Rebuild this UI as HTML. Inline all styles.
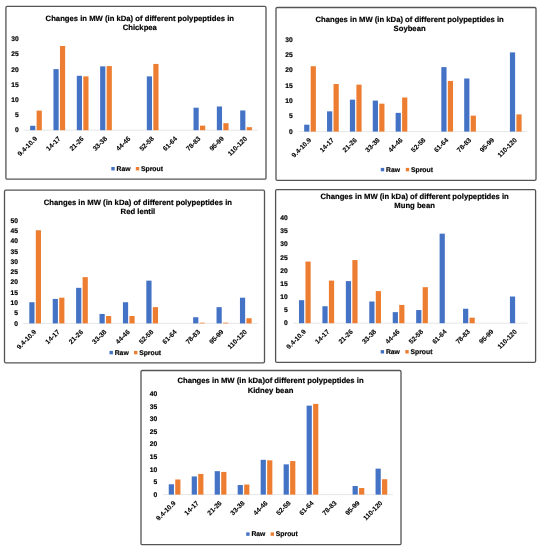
<!DOCTYPE html>
<html><head><meta charset="utf-8"><title>Changes in MW of polypeptides</title>
<style>
html,body{margin:0;padding:0;background:#fff;}
body{width:542px;height:550px;overflow:hidden;}
svg{display:block;}
text{font-family:"Liberation Sans",Arial,sans-serif;font-weight:bold;fill:#000;stroke:#000;stroke-width:0.18px;text-rendering:geometricPrecision;}
.tt{font-size:7.7px;text-anchor:middle;}
.yl{font-size:6.7px;text-anchor:end;}
.xl{font-size:6.7px;text-anchor:end;stroke-width:0.1px;}
.lg{font-size:6.8px;}
.bx{fill:none;stroke:#555;stroke-width:1.3;}
.ax{stroke:#e0e0e0;stroke-width:0.8;}
</style></head>
<body>
<svg width="542" height="550" viewBox="0 0 542 550">
<rect width="542" height="550" fill="#fff"/>
<rect x="5.9" y="6.4" width="260.1" height="172.8" rx="1.3" class="bx"/>
<text x="139.8" y="20.8" class="tt">Changes in MW (in kDa) of different polypeptides in</text>
<text x="139.8" y="29.9" class="tt">Chickpea</text>
<text x="18.8" y="132.3" class="yl">0</text>
<text x="18.8" y="117.1" class="yl">5</text>
<text x="18.8" y="101.9" class="yl">10</text>
<text x="18.8" y="86.7" class="yl">15</text>
<text x="18.8" y="71.5" class="yl">20</text>
<text x="18.8" y="56.3" class="yl">25</text>
<text x="18.8" y="41.1" class="yl">30</text>
<line x1="24.3" y1="130.2" x2="257.7" y2="130.2" class="ax"/>
<rect x="30.12" y="125.79" width="5.2" height="4.41" fill="#4472C4"/>
<rect x="36.62" y="110.59" width="5.2" height="19.61" fill="#ED7D31"/>
<text transform="translate(37.57 139.2) rotate(-45)" class="xl">9.4-10.9</text>
<rect x="53.46" y="69.1" width="5.2" height="61.1" fill="#4472C4"/>
<rect x="59.96" y="45.99" width="5.2" height="84.21" fill="#ED7D31"/>
<text transform="translate(60.91 139.2) rotate(-45)" class="xl">14-17</text>
<rect x="76.8" y="75.78" width="5.2" height="54.42" fill="#4472C4"/>
<rect x="83.3" y="76.39" width="5.2" height="53.81" fill="#ED7D31"/>
<text transform="translate(84.25 139.2) rotate(-45)" class="xl">21-26</text>
<rect x="100.14" y="66.36" width="5.2" height="63.84" fill="#4472C4"/>
<rect x="106.64" y="66.06" width="5.2" height="64.14" fill="#ED7D31"/>
<text transform="translate(107.59 139.2) rotate(-45)" class="xl">33-38</text>
<text transform="translate(130.93 139.2) rotate(-45)" class="xl">44-46</text>
<rect x="146.82" y="76.39" width="5.2" height="53.81" fill="#4472C4"/>
<rect x="153.32" y="63.93" width="5.2" height="66.27" fill="#ED7D31"/>
<text transform="translate(154.27 139.2) rotate(-45)" class="xl">52-58</text>
<text transform="translate(177.61 139.2) rotate(-45)" class="xl">61-64</text>
<rect x="193.5" y="107.7" width="5.2" height="22.5" fill="#4472C4"/>
<rect x="200" y="125.64" width="5.2" height="4.56" fill="#ED7D31"/>
<text transform="translate(200.95 139.2) rotate(-45)" class="xl">78-83</text>
<rect x="216.84" y="106.49" width="5.2" height="23.71" fill="#4472C4"/>
<rect x="223.34" y="123.21" width="5.2" height="6.99" fill="#ED7D31"/>
<text transform="translate(224.29 139.2) rotate(-45)" class="xl">95-99</text>
<rect x="240.18" y="110.44" width="5.2" height="19.76" fill="#4472C4"/>
<rect x="246.68" y="127.16" width="5.2" height="3.04" fill="#ED7D31"/>
<text transform="translate(247.63 139.2) rotate(-45)" class="xl">110-120</text>
<rect x="111.3" y="167" width="3.4" height="3.4" fill="#4472C4"/>
<text x="116.5" y="170.8" class="lg">Raw</text>
<rect x="135.8" y="167" width="3.4" height="3.4" fill="#ED7D31"/>
<text x="141" y="170.8" class="lg">Sprout</text>
<rect x="276" y="7.5" width="260" height="172.8" rx="1.3" class="bx"/>
<text x="409.6" y="21.8" class="tt">Changes in MW (in kDa) of different polypeptides in</text>
<text x="409.6" y="30.9" class="tt">Soybean</text>
<text x="292.8" y="133.7" class="yl">0</text>
<text x="292.8" y="118.35" class="yl">5</text>
<text x="292.8" y="103" class="yl">10</text>
<text x="292.8" y="87.65" class="yl">15</text>
<text x="292.8" y="72.3" class="yl">20</text>
<text x="292.8" y="56.95" class="yl">25</text>
<text x="292.8" y="41.6" class="yl">30</text>
<line x1="298.6" y1="131.6" x2="527.2" y2="131.6" class="ax"/>
<rect x="304.18" y="124.69" width="5.2" height="6.91" fill="#4472C4"/>
<rect x="310.68" y="66.21" width="5.2" height="65.39" fill="#ED7D31"/>
<text transform="translate(311.63 140.6) rotate(-45)" class="xl">9.4-10.9</text>
<rect x="327.04" y="111.34" width="5.2" height="20.26" fill="#4472C4"/>
<rect x="333.54" y="84.01" width="5.2" height="47.59" fill="#ED7D31"/>
<text transform="translate(334.49 140.6) rotate(-45)" class="xl">14-17</text>
<rect x="349.9" y="99.67" width="5.2" height="31.93" fill="#4472C4"/>
<rect x="356.4" y="84.63" width="5.2" height="46.97" fill="#ED7D31"/>
<text transform="translate(357.35 140.6) rotate(-45)" class="xl">21-26</text>
<rect x="372.76" y="100.59" width="5.2" height="31.01" fill="#4472C4"/>
<rect x="379.26" y="103.66" width="5.2" height="27.94" fill="#ED7D31"/>
<text transform="translate(380.21 140.6) rotate(-45)" class="xl">33-38</text>
<rect x="395.62" y="112.87" width="5.2" height="18.73" fill="#4472C4"/>
<rect x="402.12" y="97.52" width="5.2" height="34.08" fill="#ED7D31"/>
<text transform="translate(403.07 140.6) rotate(-45)" class="xl">44-46</text>
<text transform="translate(425.93 140.6) rotate(-45)" class="xl">52-58</text>
<rect x="441.34" y="67.13" width="5.2" height="64.47" fill="#4472C4"/>
<rect x="447.84" y="80.94" width="5.2" height="50.65" fill="#ED7D31"/>
<text transform="translate(448.79 140.6) rotate(-45)" class="xl">61-64</text>
<rect x="464.2" y="78.49" width="5.2" height="53.11" fill="#4472C4"/>
<rect x="470.7" y="115.64" width="5.2" height="15.96" fill="#ED7D31"/>
<text transform="translate(471.65 140.6) rotate(-45)" class="xl">78-83</text>
<text transform="translate(494.51 140.6) rotate(-45)" class="xl">95-99</text>
<rect x="509.92" y="52.39" width="5.2" height="79.21" fill="#4472C4"/>
<rect x="516.42" y="114.41" width="5.2" height="17.19" fill="#ED7D31"/>
<text transform="translate(517.37 140.6) rotate(-45)" class="xl">110-120</text>
<rect x="380.8" y="167.9" width="3.4" height="3.4" fill="#4472C4"/>
<text x="386" y="171.7" class="lg">Raw</text>
<rect x="405.8" y="167.9" width="3.4" height="3.4" fill="#ED7D31"/>
<text x="411" y="171.7" class="lg">Sprout</text>
<rect x="4.5" y="190.1" width="260" height="172.7" rx="1.3" class="bx"/>
<text x="137.9" y="205" class="tt">Changes in MW (in kDa) of different polypeptides in</text>
<text x="137.9" y="214.1" class="tt">Red lentil</text>
<text x="18" y="325.5" class="yl">0</text>
<text x="18" y="315.22" class="yl">5</text>
<text x="18" y="304.94" class="yl">10</text>
<text x="18" y="294.66" class="yl">15</text>
<text x="18" y="284.38" class="yl">20</text>
<text x="18" y="274.1" class="yl">25</text>
<text x="18" y="263.82" class="yl">30</text>
<text x="18" y="253.54" class="yl">35</text>
<text x="18" y="243.26" class="yl">40</text>
<text x="18" y="232.98" class="yl">45</text>
<text x="18" y="222.7" class="yl">50</text>
<line x1="23.45" y1="323.4" x2="257.5" y2="323.4" class="ax"/>
<rect x="29.3" y="302.22" width="5.2" height="21.18" fill="#4472C4"/>
<rect x="35.8" y="230.26" width="5.2" height="93.14" fill="#ED7D31"/>
<text transform="translate(36.75 332.4) rotate(-45)" class="xl">9.4-10.9</text>
<rect x="52.71" y="298.93" width="5.2" height="24.47" fill="#4472C4"/>
<rect x="59.21" y="297.7" width="5.2" height="25.7" fill="#ED7D31"/>
<text transform="translate(60.16 332.4) rotate(-45)" class="xl">14-17</text>
<rect x="76.11" y="287.83" width="5.2" height="35.57" fill="#4472C4"/>
<rect x="82.61" y="277.14" width="5.2" height="46.26" fill="#ED7D31"/>
<text transform="translate(83.56 332.4) rotate(-45)" class="xl">21-26</text>
<rect x="99.52" y="313.94" width="5.2" height="9.46" fill="#4472C4"/>
<rect x="106.02" y="316" width="5.2" height="7.4" fill="#ED7D31"/>
<text transform="translate(106.97 332.4) rotate(-45)" class="xl">33-38</text>
<rect x="122.92" y="302.22" width="5.2" height="21.18" fill="#4472C4"/>
<rect x="129.42" y="316" width="5.2" height="7.4" fill="#ED7D31"/>
<text transform="translate(130.37 332.4) rotate(-45)" class="xl">44-46</text>
<rect x="146.33" y="280.64" width="5.2" height="42.76" fill="#4472C4"/>
<rect x="152.83" y="307.16" width="5.2" height="16.24" fill="#ED7D31"/>
<text transform="translate(153.78 332.4) rotate(-45)" class="xl">52-58</text>
<text transform="translate(177.18 332.4) rotate(-45)" class="xl">61-64</text>
<rect x="193.14" y="317.23" width="5.2" height="6.17" fill="#4472C4"/>
<rect x="199.64" y="322.68" width="5.2" height="0.72" fill="#ED7D31"/>
<text transform="translate(200.59 332.4) rotate(-45)" class="xl">78-83</text>
<rect x="216.54" y="307.16" width="5.2" height="16.24" fill="#4472C4"/>
<rect x="223.04" y="322.68" width="5.2" height="0.72" fill="#ED7D31"/>
<text transform="translate(223.99 332.4) rotate(-45)" class="xl">95-99</text>
<rect x="239.95" y="297.7" width="5.2" height="25.7" fill="#4472C4"/>
<rect x="246.45" y="318.26" width="5.2" height="5.14" fill="#ED7D31"/>
<text transform="translate(247.4 332.4) rotate(-45)" class="xl">110-120</text>
<rect x="109.5" y="350.9" width="3.4" height="3.4" fill="#4472C4"/>
<text x="114.7" y="354.7" class="lg">Raw</text>
<rect x="134" y="350.9" width="3.4" height="3.4" fill="#ED7D31"/>
<text x="139.2" y="354.7" class="lg">Sprout</text>
<rect x="275.6" y="189.6" width="260" height="172.8" rx="1.3" class="bx"/>
<text x="414.6" y="199" class="tt">Changes in MW (in kDa) of different polypeptides in</text>
<text x="414.6" y="208.1" class="tt">Mung bean</text>
<text x="287.8" y="325.3" class="yl">0</text>
<text x="287.8" y="312.15" class="yl">5</text>
<text x="287.8" y="299" class="yl">10</text>
<text x="287.8" y="285.85" class="yl">15</text>
<text x="287.8" y="272.7" class="yl">20</text>
<text x="287.8" y="259.55" class="yl">25</text>
<text x="287.8" y="246.4" class="yl">30</text>
<text x="287.8" y="233.25" class="yl">35</text>
<text x="287.8" y="220.1" class="yl">40</text>
<line x1="293.1" y1="323.2" x2="527.5" y2="323.2" class="ax"/>
<rect x="298.97" y="300.19" width="5.2" height="23.01" fill="#4472C4"/>
<rect x="305.47" y="261.53" width="5.2" height="61.67" fill="#ED7D31"/>
<text transform="translate(306.42 332.2) rotate(-45)" class="xl">9.4-10.9</text>
<rect x="322.41" y="306.24" width="5.2" height="16.96" fill="#4472C4"/>
<rect x="328.91" y="280.59" width="5.2" height="42.61" fill="#ED7D31"/>
<text transform="translate(329.86 332.2) rotate(-45)" class="xl">14-17</text>
<rect x="345.85" y="281.12" width="5.2" height="42.08" fill="#4472C4"/>
<rect x="352.35" y="260.08" width="5.2" height="63.12" fill="#ED7D31"/>
<text transform="translate(353.3 332.2) rotate(-45)" class="xl">21-26</text>
<rect x="369.29" y="301.5" width="5.2" height="21.7" fill="#4472C4"/>
<rect x="375.79" y="291.11" width="5.2" height="32.09" fill="#ED7D31"/>
<text transform="translate(376.74 332.2) rotate(-45)" class="xl">33-38</text>
<rect x="392.73" y="312.15" width="5.2" height="11.05" fill="#4472C4"/>
<rect x="399.23" y="304.92" width="5.2" height="18.28" fill="#ED7D31"/>
<text transform="translate(400.18 332.2) rotate(-45)" class="xl">44-46</text>
<rect x="416.17" y="310.05" width="5.2" height="13.15" fill="#4472C4"/>
<rect x="422.67" y="287.17" width="5.2" height="36.03" fill="#ED7D31"/>
<text transform="translate(423.62 332.2) rotate(-45)" class="xl">52-58</text>
<rect x="439.61" y="233.65" width="5.2" height="89.55" fill="#4472C4"/>
<text transform="translate(447.06 332.2) rotate(-45)" class="xl">61-64</text>
<rect x="463.05" y="308.74" width="5.2" height="14.46" fill="#4472C4"/>
<rect x="469.55" y="317.68" width="5.2" height="5.52" fill="#ED7D31"/>
<text transform="translate(470.5 332.2) rotate(-45)" class="xl">78-83</text>
<text transform="translate(493.94 332.2) rotate(-45)" class="xl">95-99</text>
<rect x="509.93" y="296.51" width="5.2" height="26.69" fill="#4472C4"/>
<text transform="translate(517.38 332.2) rotate(-45)" class="xl">110-120</text>
<rect x="380.7" y="350.1" width="3.4" height="3.4" fill="#4472C4"/>
<text x="385.9" y="353.9" class="lg">Raw</text>
<rect x="405.3" y="350.1" width="3.4" height="3.4" fill="#ED7D31"/>
<text x="410.5" y="353.9" class="lg">Sprout</text>
<rect x="141" y="370.5" width="260" height="174.2" rx="1.3" class="bx"/>
<text x="270.5" y="383.4" class="tt">Changes in MW (in kDa)of different polypeptides in</text>
<text x="270.5" y="392.5" class="tt">Kidney bean</text>
<text x="157.3" y="496.7" class="yl">0</text>
<text x="157.3" y="484.1" class="yl">5</text>
<text x="157.3" y="471.5" class="yl">10</text>
<text x="157.3" y="458.9" class="yl">15</text>
<text x="157.3" y="446.3" class="yl">20</text>
<text x="157.3" y="433.7" class="yl">25</text>
<text x="157.3" y="421.1" class="yl">30</text>
<text x="157.3" y="408.5" class="yl">35</text>
<text x="157.3" y="395.9" class="yl">40</text>
<line x1="163.1" y1="494.6" x2="392.9" y2="494.6" class="ax"/>
<rect x="168.74" y="484.27" width="5.2" height="10.33" fill="#4472C4"/>
<rect x="175.24" y="479.48" width="5.2" height="15.12" fill="#ED7D31"/>
<text transform="translate(176.19 503.6) rotate(-45)" class="xl">9.4-10.9</text>
<rect x="191.72" y="476.46" width="5.2" height="18.14" fill="#4472C4"/>
<rect x="198.22" y="473.94" width="5.2" height="20.66" fill="#ED7D31"/>
<text transform="translate(199.17 503.6) rotate(-45)" class="xl">14-17</text>
<rect x="214.7" y="471.16" width="5.2" height="23.44" fill="#4472C4"/>
<rect x="221.2" y="471.92" width="5.2" height="22.68" fill="#ED7D31"/>
<text transform="translate(222.15 503.6) rotate(-45)" class="xl">21-26</text>
<rect x="237.68" y="485.02" width="5.2" height="9.58" fill="#4472C4"/>
<rect x="244.18" y="484.52" width="5.2" height="10.08" fill="#ED7D31"/>
<text transform="translate(245.13 503.6) rotate(-45)" class="xl">33-38</text>
<rect x="260.66" y="459.82" width="5.2" height="34.78" fill="#4472C4"/>
<rect x="267.16" y="460.33" width="5.2" height="34.27" fill="#ED7D31"/>
<text transform="translate(268.11 503.6) rotate(-45)" class="xl">44-46</text>
<rect x="283.64" y="464.36" width="5.2" height="30.24" fill="#4472C4"/>
<rect x="290.14" y="461.08" width="5.2" height="33.52" fill="#ED7D31"/>
<text transform="translate(291.09 503.6) rotate(-45)" class="xl">52-58</text>
<rect x="306.62" y="405.64" width="5.2" height="88.96" fill="#4472C4"/>
<rect x="313.12" y="403.88" width="5.2" height="90.72" fill="#ED7D31"/>
<text transform="translate(314.07 503.6) rotate(-45)" class="xl">61-64</text>
<text transform="translate(337.05 503.6) rotate(-45)" class="xl">78-83</text>
<rect x="352.58" y="486.03" width="5.2" height="8.57" fill="#4472C4"/>
<rect x="359.08" y="488.05" width="5.2" height="6.55" fill="#ED7D31"/>
<text transform="translate(360.03 503.6) rotate(-45)" class="xl">95-99</text>
<rect x="375.56" y="468.64" width="5.2" height="25.96" fill="#4472C4"/>
<rect x="382.06" y="479.23" width="5.2" height="15.37" fill="#ED7D31"/>
<text transform="translate(383.01 503.6) rotate(-45)" class="xl">110-120</text>
<rect x="246.2" y="532.4" width="3.4" height="3.4" fill="#4472C4"/>
<text x="251.4" y="536.2" class="lg">Raw</text>
<rect x="270.6" y="532.4" width="3.4" height="3.4" fill="#ED7D31"/>
<text x="275.8" y="536.2" class="lg">Sprout</text>
</svg>
</body></html>
